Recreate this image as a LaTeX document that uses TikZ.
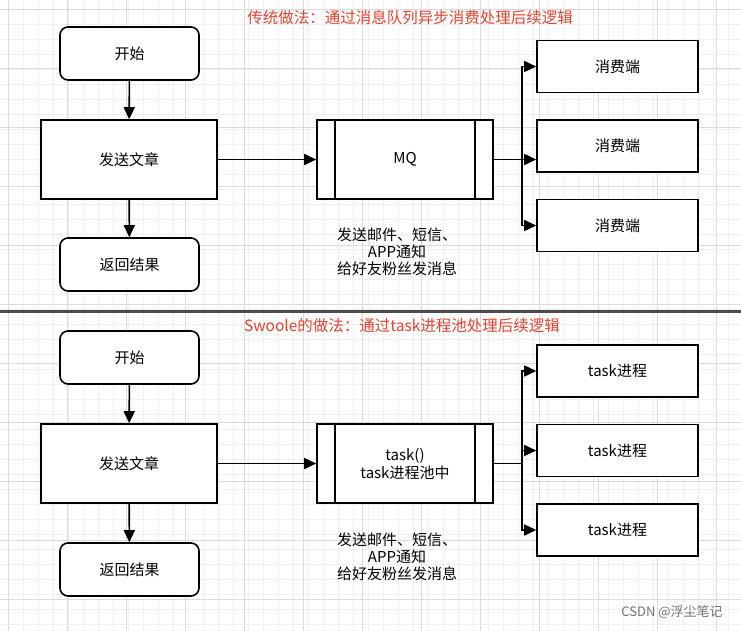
\documentclass[tikz,border=0pt]{standalone}
\usepackage{fontspec}
\setmainfont{Noto Sans CJK SC}
\usetikzlibrary{arrows.meta}
\newlength{\du}
\setlength{\du}{1pt}
\definecolor{titlered}{rgb}{0.910000, 0.255000, 0.184000}
\definecolor{gridcolor}{rgb}{0.860000, 0.860000, 0.860000}
\definecolor{minorgrid}{rgb}{0.940000, 0.940000, 0.940000}
\tikzset{
  box/.style={draw, line width=1.6\du, fill=white, minimum width=176\du, minimum height=79\du, inner sep=0pt, font=\fontsize{15}{18}\selectfont},
  term/.style={box, rounded corners=8\du, minimum width=139\du, minimum height=53\du},
  sink/.style={box, minimum width=161\du, minimum height=52\du},
  note/.style={align=center, font=\fontsize{15}{17}\selectfont, inner sep=0pt},
  flow/.style={line width=1.6\du, -{Triangle[length=12pt,width=11pt]}},
}
\begin{document}
\begin{tikzpicture}[x=1\du,y=-1\du]
\useasboundingbox (0,0) rectangle (741,631);
\fill[white] (0,0) rectangle (741,631);
\foreach \gx in {23,38,...,741}
  \draw[minorgrid, line width=0.6\du] (\gx,0)--(\gx,631);
\foreach \gy in {24,39,...,631}
  \draw[minorgrid, line width=0.6\du] (0,\gy)--(741,\gy);
\foreach \gx in {8,67,...,741}
  \draw[gridcolor, line width=0.9\du] (\gx,0)--(\gx,631);
\foreach \gy in {9,68,...,631}
  \draw[gridcolor, line width=0.9\du] (0,\gy)--(741,\gy);
% separator
\draw[line width=3\du, black!70] (0,311)--(741,311);
% upper half: message queue
\node[titlered, font=\fontsize{15.5}{18}\selectfont] (titleA) at (410,18) {传统做法：通过消息队列异步消费处理后续逻辑};
\node[term] (startA) at (129.5,53.5) {开始};
\node[box] (sendA) at (129,159.5) {发送文章};
\node[term] (retA) at (129.5,264.5) {返回结果};
\node[box] (mq) at (405,159.5) {MQ};
\draw[line width=1.6\du] (335,120)--(335,199) (475,120)--(475,199);
\node[sink] (cA1) at (617.5,66.5) {消费端};
\node[sink] (cA2) at (617.5,146) {消费端};
\node[sink] (cA3) at (617.5,225.5) {消费端};
\node[note] (noteA) at (397,252) {发送邮件、短信、\\APP通知\\给好友粉丝发消息};
\draw[flow] (startA)--(sendA);
\draw[flow] (sendA)--(retA);
\draw[flow] (sendA)--(mq);
\coordinate (busA) at (522,159.5);
\draw[line width=1.6\du] (mq.east)--(busA);
\draw[flow] (busA)--(busA-|cA2.west);
\draw[flow] (busA)|-(cA1.west);
\draw[flow] (busA)|-(cA3.west);
% lower half: task pool
\node[titlered, font=\fontsize{15.5}{18}\selectfont] (titleB) at (402,326) {Swoole的做法：通过task进程池处理后续逻辑};
\node[term] (startB) at (129.5,357.5) {开始};
\node[box] (sendB) at (129,463.5) {发送文章};
\node[term] (retB) at (129.5,569.5) {返回结果};
\node[box, align=center] (pool) at (405,463.5) {task()\\task进程池中};
\draw[line width=1.6\du] (335,424)--(335,503) (475,424)--(475,503);
\node[sink] (cB1) at (617.5,371) {task进程};
\node[sink] (cB2) at (617.5,450.5) {task进程};
\node[sink] (cB3) at (617.5,530) {task进程};
\node[note] (noteB) at (397,557) {发送邮件、短信、\\APP通知\\给好友粉丝发消息};
\draw[flow] (startB)--(sendB);
\draw[flow] (sendB)--(retB);
\draw[flow] (sendB)--(pool);
\coordinate (busB) at (522,463.5);
\draw[line width=1.6\du] (pool.east)--(busB);
\draw[flow] (busB)|-(cB1.west);
\draw[flow] (busB)|-(cB2.west);
\draw[flow] (busB)|-(cB3.west);
\node[black!55, font=\fontsize{13}{15}\selectfont] (mark) at (672,612) {CSDN @浮尘笔记};
\end{tikzpicture}
\end{document}
